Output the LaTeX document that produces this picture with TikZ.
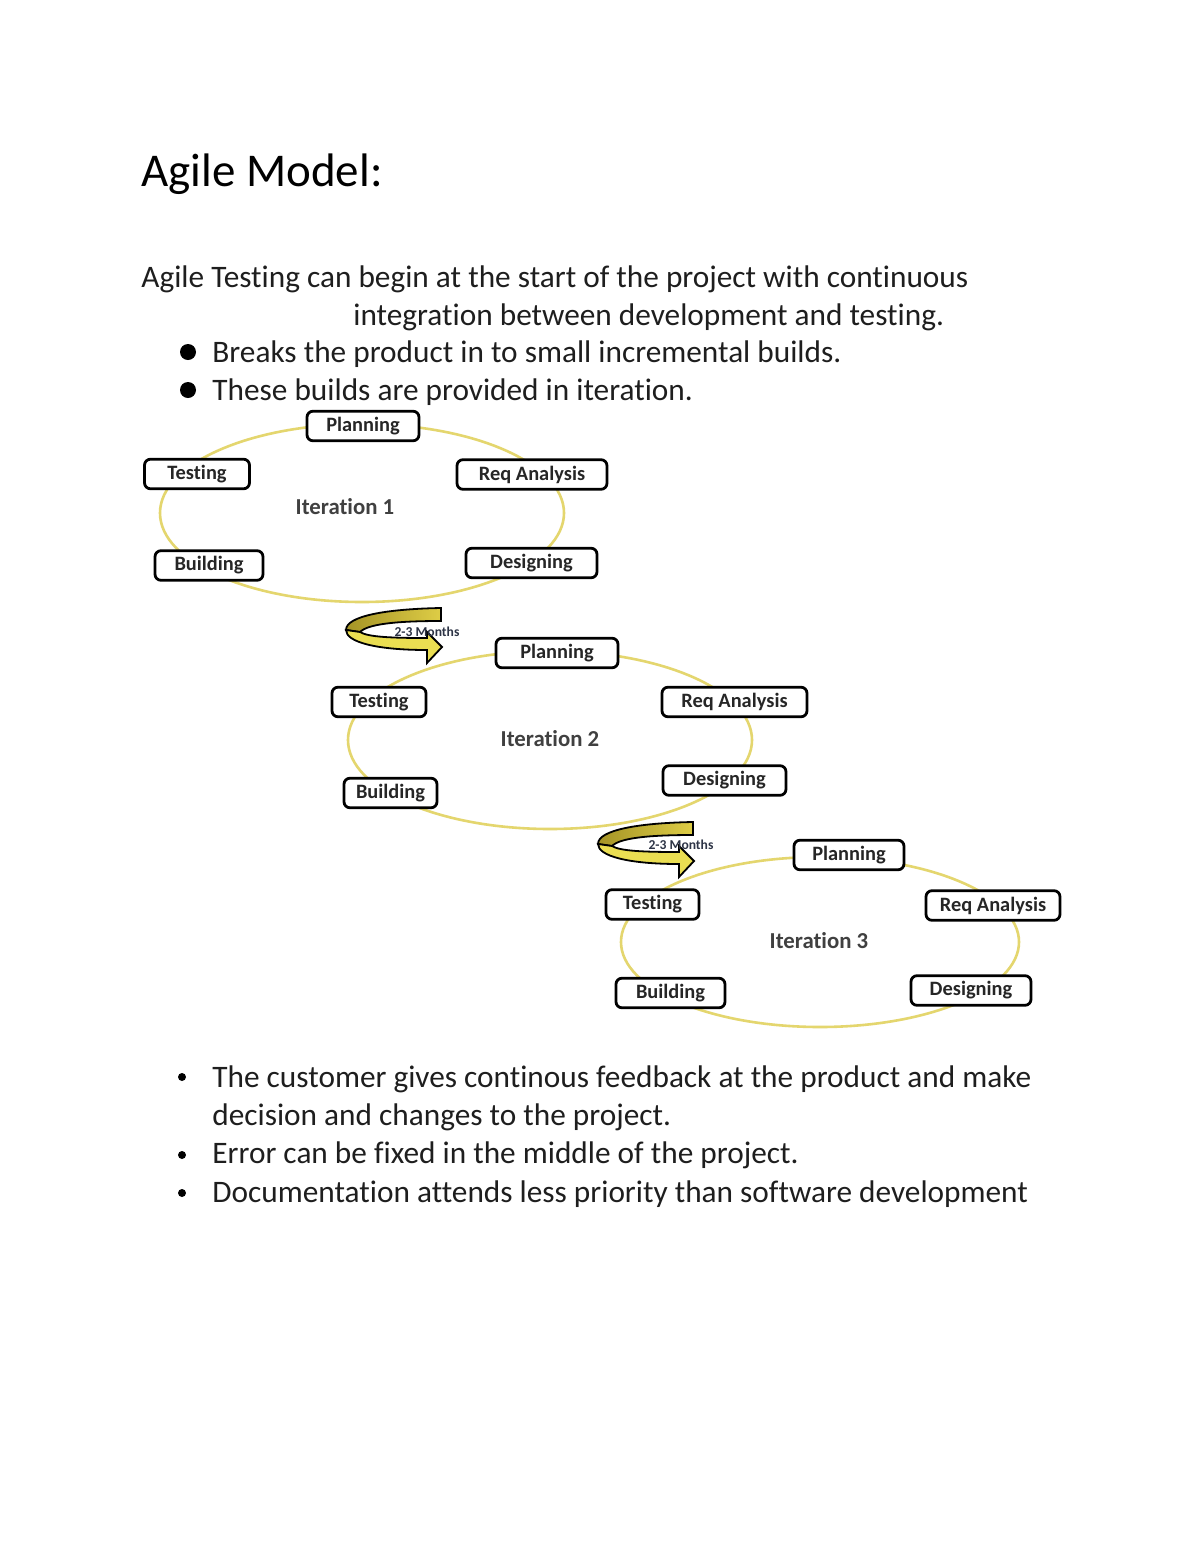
\documentclass[tikz,border=0pt]{standalone}
\usepackage{fontspec}
\setmainfont{Carlito}[Ligatures=NoCommon]
\usetikzlibrary{shapes.geometric}
\definecolor{ellcol}{RGB}{228,214,110}
\definecolor{backdark}{RGB}{165,148,38}
\definecolor{backlight}{RGB}{222,205,70}
\definecolor{frontcol}{RGB}{234,222,82}
\definecolor{monthcol}{RGB}{45,52,70}
\definecolor{bodytext}{RGB}{30,30,30}
\tikzset{
  bodyline/.style={anchor=base west, inner sep=0pt, text=bodytext, font=\fontsize{15.65}{18}\selectfont},
  titleline/.style={anchor=base west, inner sep=0pt, text=black, font=\fontsize{23.5}{27}\selectfont},
  stagebox/.style={draw=black, line width=1.4pt, rounded corners=3pt, fill=white, inner sep=0pt,
     minimum height=14.8pt, text=black!85, font=\bfseries\fontsize{10.2}{12}\selectfont},
  iterlabel/.style={inner sep=0pt, text=black!75, font=\bfseries\fontsize{11.4}{13}\selectfont},
  loopell/.style={ellipse, draw=ellcol, line width=1.3pt, inner sep=0pt},
  monthlabel/.style={inner sep=0pt, text=monthcol, font=\bfseries\fontsize{6.8}{8}\selectfont},
  ribbon/.pic={
    \path[draw=black, line width=0.9pt, left color=backdark, right color=backlight]
      (95,0) .. controls (40,1) and (0,8) .. (0,22) -- (14,24)
      .. controls (22,16) and (50,13) .. (95,13) -- cycle;
    \path[draw=black, line width=0.9pt, fill=frontcol]
      (0,22) .. controls (0,34) and (30,42) .. (81,42) -- (81,55) -- (96,39) -- (81,24) -- (81,30)
      .. controls (45,30) and (22,29) .. (14,24) -- cycle;
  }
}
\begin{document}
\begin{tikzpicture}[x=0.5pt, y=-0.5pt]
\useasboundingbox[fill=white] (0,0) rectangle (1200,1553);

% heading and text
\node[titleline] (title) at (141,186) {Agile Model:};
\node[bodyline] (l1) at (141,287) {Agile Testing can begin at the start of the project with continuous};
\node[bodyline] (l2) at (353,325) {integration between development and testing.};
\fill[black] (188,352) circle (4pt);
\node[bodyline] (l3) at (212,362) {Breaks the product in to small incremental builds.};
\fill[black] (188,390) circle (4pt);
\node[bodyline] (l4) at (212,400) {These builds are provided in iteration.};

% ellipses
\node[loopell, minimum width=202pt, minimum height=89pt] (e1) at (362,513) {};
\node[loopell, minimum width=202pt, minimum height=89pt] (e2) at (550,740) {};
\node[loopell, minimum width=199pt, minimum height=85pt] (e3) at (820,942) {};

% arrows between iterations
\pic at (346,608) {ribbon};
\node[monthlabel] (m1) at (427,632) {2-3 Months};
\pic at (598,822) {ribbon};
\node[monthlabel] (m2) at (681,845) {2-3 Months};

% iteration 1
\node[stagebox, minimum width=56pt]   (p1) at (363,426) {Planning};
\node[stagebox, minimum width=52.5pt] (t1) at (197,474) {Testing};
\node[stagebox, minimum width=75pt]   (r1) at (532,474.5) {Req Analysis};
\node[stagebox, minimum width=54pt]   (b1) at (209,565.5) {Building};
\node[stagebox, minimum width=65.5pt] (d1) at (531.5,563) {Designing};
\node[iterlabel] (i1) at (345,507) {Iteration 1};

% iteration 2
\node[stagebox, minimum width=61pt]   (p2) at (557,653) {Planning};
\node[stagebox, minimum width=47pt]   (t2) at (379,702) {Testing};
\node[stagebox, minimum width=72.5pt] (r2) at (734.5,702) {Req Analysis};
\node[stagebox, minimum width=46.5pt] (b2) at (390.5,793) {Building};
\node[stagebox, minimum width=61.5pt] (d2) at (724.5,780.5) {Designing};
\node[iterlabel] (i2) at (550,739) {Iteration 2};

% iteration 3
\node[stagebox, minimum width=55pt]   (p3) at (849,855) {Planning};
\node[stagebox, minimum width=46.5pt] (t3) at (652.5,904.5) {Testing};
\node[stagebox, minimum width=67pt]   (r3) at (993,905.5) {Req Analysis};
\node[stagebox, minimum width=54.5pt] (b3) at (670.5,993) {Building};
\node[stagebox, minimum width=60pt]   (d3) at (971,990.5) {Designing};
\node[iterlabel] (i3) at (819,941) {Iteration 3};

% lower bullets
\fill[black] (182,1077) circle (2pt);
\node[bodyline] (l5) at (212,1087) {The customer gives continous feedback at the product and make};
\node[bodyline] (l6) at (212,1125) {decision and changes to the project.};
\fill[black] (182,1155) circle (2pt);
\node[bodyline] (l7) at (212,1163) {Error can be fixed in the middle of the project.};
\fill[black] (182,1193) circle (2pt);
\node[bodyline] (l8) at (212,1202) {Documentation attends less priority than software development};
\end{tikzpicture}
\end{document}
